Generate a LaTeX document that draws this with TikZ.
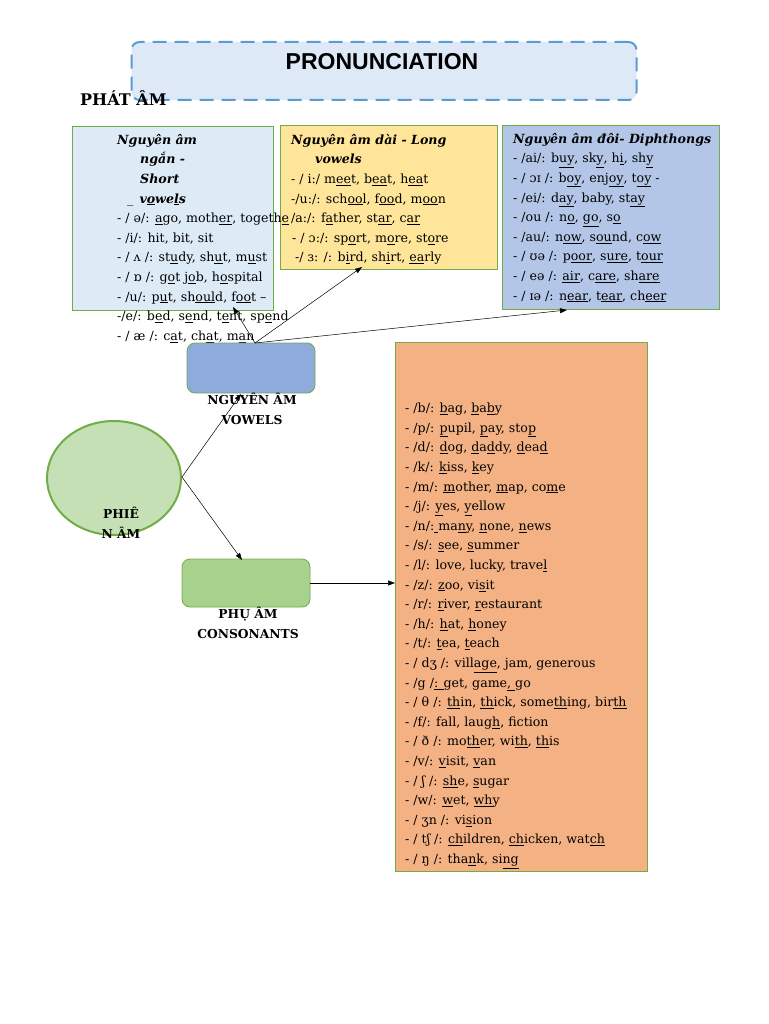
\documentclass[tikz,border=0pt]{standalone}
\usepackage{fontspec}
\setmainfont{DejaVu Serif}
\newfontfamily\titlefont{Liberation Sans}
\usetikzlibrary{arrows.meta,shapes.geometric}
\newcommand\U[1]{\underline{#1}}
\definecolor{gbord}{RGB}{112,173,71}
\definecolor{tblue}{RGB}{221,233,246}
\definecolor{tdash}{RGB}{91,155,213}
\definecolor{lblue}{RGB}{221,235,247}
\definecolor{lyel}{RGB}{255,229,153}
\definecolor{lvio}{RGB}{180,198,231}
\definecolor{vbox}{RGB}{143,170,220}
\definecolor{ell}{RGB}{197,224,180}
\definecolor{cbox}{RGB}{169,209,142}
\definecolor{orng}{RGB}{244,177,131}
\begin{document}
\begin{tikzpicture}[x=1pt,y=-1pt,
  box/.style={draw=gbord,line width=0.8pt},
  txt/.style={anchor=north west,inner sep=0pt,align=left,font=\fontsize{12.6}{19.6}\selectfont},
  lbl/.style={inner sep=0pt,align=center,font=\fontsize{12.3}{19.6}\selectfont\bfseries},
  arr/.style={-{Triangle[length=7pt,width=5pt]},line width=0.5pt}]
\useasboundingbox (0,0) rectangle (768,1024);
% title
\node[draw=tdash,fill=tblue,dashed,line width=2pt,dash pattern=on 14pt off 8pt,rounded corners=8pt,minimum width=505pt,minimum height=58pt] (title) at (384,71) {};
\node[font=\titlefont\fontsize{23}{25}\selectfont\bfseries] (ttext) at (382,62) {PRONUNCIATION};
\node[anchor=west,inner sep=0pt,font=\fontsize{16}{18}\selectfont\bfseries] (phat) at (80,98) {PHÁT ÂM};
% vowel boxes
\node[box,fill=lblue,anchor=north west,minimum width=201pt,minimum height=184pt] (short) at (72,126) {};
\node[box,fill=lyel,anchor=north west,minimum width=217pt,minimum height=144pt] (long) at (280,125) {};
\node[box,fill=lvio,anchor=north west,minimum width=217pt,minimum height=184pt] (diph) at (502,125) {};
\node[txt] (shortt) at (117,134) {\textbf{\textit{Nguyên âm}}\\
\hspace*{23pt}\textbf{\textit{ngắn -}}\\
\hspace*{23pt}\textbf{\textit{Short}}\\
\hspace*{10pt}\_\hspace*{6pt}\textbf{\textit{v\U{o}we\U{l}s}}\\
- / ə/: \U{a}go, moth\U{er}, togeth\U{e}\\
- /i/: hit, bit, sit\\
- / ʌ /: st\U{u}dy, sh\U{u}t, m\U{u}st\\
- / ɒ /: g\U{o}t j\U{o}b, h\U{o}spital\\
- /u/: p\U{u}t, sh\U{oul}d, f\U{oo}t –\\
-/e/: b\U{e}d, s\U{e}nd, t\U{e}nt, sp\U{e}nd\\
- / æ /: c\U{a}t, ch\U{a}t, m\U{a}n};
\node[txt] (longt) at (291,134) {\textbf{\textit{Nguyên âm dài - Long}}\\
\hspace*{24pt}\textbf{\textit{vowels}}\\
- / i:/ m\U{ee}t, b\U{ea}t, h\U{ea}t\\
-/u:/: sch\U{oo}l, f\U{oo}d, m\U{oo}n\\
/a:/: f\U{a}ther, st\U{ar}, c\U{ar}\\
\hspace*{1pt}- / ɔ:/: sp\U{o}rt, m\U{o}re, st\U{o}re\\
\hspace*{4pt}-/ ɜ: /: b\U{i}rd, sh\U{i}rt, \U{ea}rly};
\node[txt] (diapht) at (513,133) {\textbf{\textit{Nguyên âm đôi- Diphthongs}}\\
- /ai/: b\U{uy}, sk\U{y}, h\U{i}, sh\U{y}\\
- / ɔɪ /: b\U{oy}, enj\U{oy}, t\U{oy} -\\
- /ei/: d\U{ay}, baby, st\U{ay}\\
- /ou /: n\U{o}, \U{go}, s\U{o}\\
- /au/: n\U{ow}, s\U{ou}nd, c\U{ow}\\
- / ʊə /: p\U{oor}, s\U{ure}, t\U{our}\\
- / eə /: \U{air}, c\U{are}, sh\U{are}\\
- / ɪə /: n\U{ear}, t\U{ear}, ch\U{eer}};
% central shapes
\node[box,fill=vbox,rounded corners=8pt,minimum width=128pt,minimum height=50pt] (vow) at (251,368) {};
\node[lbl] (vowl) at (252,409) {NGUYÊN ÂM\\VOWELS};
\node[ellipse,draw=gbord,line width=2pt,fill=ell,minimum width=134pt,minimum height=114pt] (phien) at (114,478) {};
\node[lbl] (phienl) at (121,523) {PHIÊ\\N ÂM};
\node[box,fill=cbox,rounded corners=8pt,minimum width=128pt,minimum height=48pt] (cons) at (246,583) {};
\node[lbl] (consl) at (248,623) {PHỤ ÂM\\CONSONANTS};
% consonant list
\node[box,fill=orng,anchor=north west,minimum width=252pt,minimum height=529pt] (clist) at (395,342) {};
\node[txt] (clistt) at (405,403) {- /b/: \U{b}ag, \U{b}a\U{b}y\\
- /p/: \U{p}upil, \U{p}ay, sto\U{p}\\
- /d/: \U{d}og, \U{d}a\U{d}dy, \U{d}ea\U{d}\\
- /k/: \U{k}iss, \U{k}ey\\
- /m/: \U{m}other, \U{m}ap, co\U{m}e\\
- /j/: \U{y}es, \U{y}ellow\\
- /n/:\U{ }ma\U{n}y, \U{n}one, \U{n}ews\\
- /s/: \U{s}ee, \U{s}ummer\\
- /l/: love, lucky, trave\U{l}\\
- /z/: \U{z}oo, vi\U{s}it\\
- /r/: \U{r}iver, \U{r}estaurant\\
- /h/: \U{h}at, \U{h}oney\\
- /t/: \U{t}ea, \U{t}each\\
- / dʒ /: vill\U{age}, jam, generous\\
- /g /\U{: }get, game\U{, }go\\
- / θ /: \U{th}in, \U{th}ick, some\U{th}ing, bir\U{th}\\
- /f/: fall, laug\U{h}, fiction\\
- / ð /: mo\U{th}er, wi\U{th}, \U{th}is\\
- /v/: \U{v}isit, \U{v}an\\
- / ʃ /: \U{sh}e, \U{s}ugar\\
- /w/: \U{w}et, \U{wh}y\\
- / ʒn /: vi\U{s}ion\\
- / tʃ /: \U{ch}ildren, \U{ch}icken, wat\U{ch}\\
- / ŋ /: tha\U{n}k, si\U{ng}};
% connectors
\coordinate (hub) at (255,343);
\coordinate (pe) at (182,477);
\draw[arr] (pe) -- (241,394);
\draw[arr] (pe) -- (242,560);
\draw[arr] (cons.east) -- (cons.east -| clist.west);
\draw[arr] (hub) -- (233,307);
\draw[arr] (hub) -- (362,267);
\draw[arr] (hub) -- (567,310);
\end{tikzpicture}
\end{document}
